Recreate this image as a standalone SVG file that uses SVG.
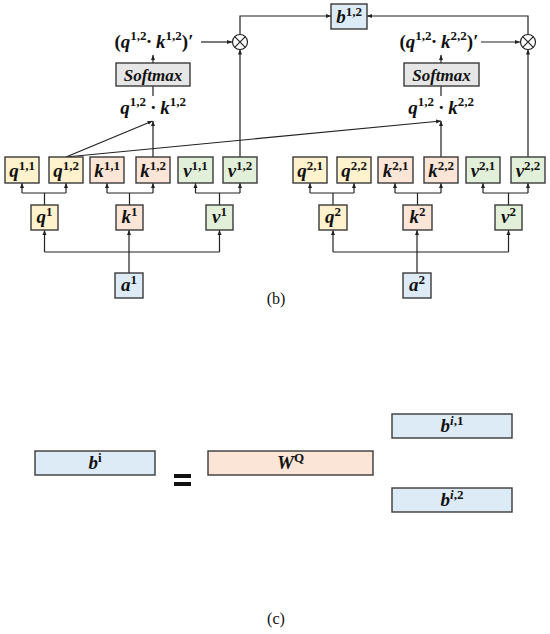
<svg xmlns="http://www.w3.org/2000/svg" width="550" height="634" viewBox="0 0 550 634">
<defs>
<marker id="ah" viewBox="0 0 10 10" refX="10" refY="5" markerWidth="5" markerHeight="5" orient="auto" markerUnits="userSpaceOnUse">
<path d="M0,1 L10,5 L0,9 Z" fill="#222"/>
</marker>
</defs>
<style>
.box{stroke:#3a3a3a;stroke-width:1.4}
.q{fill:#FFF2CC}.k{fill:#FBE5D6}.v{fill:#E2F0D9}.b{fill:#DDEBF7}.s{fill:#E6E6E6}
text{font-family:'Liberation Serif','Times New Roman','DejaVu Serif',serif}
.lb{font-weight:bold;font-style:italic;font-size:19px;fill:#111;text-anchor:middle}
.sp{font-style:normal;font-size:13px}
.f{font-weight:bold;font-style:italic;font-size:19px;fill:#111;text-anchor:middle}
.fs{font-style:normal;font-size:13px}
.sm{font-weight:bold;font-style:italic;font-size:17px;fill:#111;text-anchor:middle}
.cap{font-size:16px;fill:#111;text-anchor:middle}
.ln{fill:none;stroke:#222;stroke-width:1.2}
.ot{fill:none;stroke:#222;stroke-width:1.2}
</style>

<g id="connectors">
<path class="ln" d="M129,273 V252"/>
<path class="ln" d="M44.5,252 H219.5"/>
<path class="ln" d="M44.5,252 V230" marker-end="url(#ah)"/>
<path class="ln" d="M129,252 V230" marker-end="url(#ah)"/>
<path class="ln" d="M219.5,252 V230" marker-end="url(#ah)"/>
<path class="ln" d="M44.5,205 V193 M22,193 H66 M129.5,205 V193 M107,193 H153 M219.5,205 V193 M195.5,193 H240"/>
<path class="ln" d="M22,193 V183" marker-end="url(#ah)"/>
<path class="ln" d="M66,193 V183" marker-end="url(#ah)"/>
<path class="ln" d="M107,193 V183" marker-end="url(#ah)"/>
<path class="ln" d="M153,193 V183" marker-end="url(#ah)"/>
<path class="ln" d="M195.5,193 V183" marker-end="url(#ah)"/>
<path class="ln" d="M240,193 V183" marker-end="url(#ah)"/>
<path class="ln" d="M417,273 V252"/>
<path class="ln" d="M333,252 H508.5"/>
<path class="ln" d="M333,252 V230" marker-end="url(#ah)"/>
<path class="ln" d="M417,252 V230" marker-end="url(#ah)"/>
<path class="ln" d="M508.5,252 V230" marker-end="url(#ah)"/>
<path class="ln" d="M333,205 V193 M310,193 H354 M417.5,205 V193 M395,193 H441 M508.5,205 V193 M483,193 H528"/>
<path class="ln" d="M310,193 V183" marker-end="url(#ah)"/>
<path class="ln" d="M354,193 V183" marker-end="url(#ah)"/>
<path class="ln" d="M395,193 V183" marker-end="url(#ah)"/>
<path class="ln" d="M441,193 V183" marker-end="url(#ah)"/>
<path class="ln" d="M483,193 V183" marker-end="url(#ah)"/>
<path class="ln" d="M528,193 V183" marker-end="url(#ah)"/>
<path class="ln" d="M66,157 L152.5,121" marker-end="url(#ah)"/>
<path class="ln" d="M153,157 V121" marker-end="url(#ah)"/>
<path class="ln" d="M66,157 L441,121" marker-end="url(#ah)"/>
<path class="ln" d="M441,157 V121" marker-end="url(#ah)"/>
<path class="ln" d="M153,96 V86"/>
<path class="ln" d="M441,96 V86"/>
<path class="ln" d="M153,63 V55" marker-end="url(#ah)"/>
<path class="ln" d="M441,63 V55" marker-end="url(#ah)"/>
<path class="ln" d="M201,42 H232" marker-end="url(#ah)"/>
<path class="ln" d="M481,42 H520" marker-end="url(#ah)"/>
<path class="ln" d="M240,157 V49.5" marker-end="url(#ah)"/>
<path class="ln" d="M528,157 V49.5" marker-end="url(#ah)"/>
<path class="ln" d="M240,34.5 V16 H331" marker-end="url(#ah)"/>
<path class="ln" d="M528,34.5 V16 H367" marker-end="url(#ah)"/>
</g>

<g id="otimes1"><circle class="ot" cx="240" cy="42" r="7.5"/><path class="ot" d="M234.7,36.7 L245.3,47.3 M245.3,36.7 L234.7,47.3"/></g>
<g id="otimes2"><circle class="ot" cx="528" cy="42" r="7.5"/><path class="ot" d="M522.7,36.7 L533.3,47.3 M533.3,36.7 L522.7,47.3"/></g>

<g id="b12"><rect class="box b" x="331" y="4" width="36" height="25"/><text class="lb" x="349" y="23">b<tspan class="sp" dy="-7">1,2</tspan></text></g>

<g id="dot1"><text class="f" x="153" y="114">q<tspan class="fs" dy="-8">1,2</tspan><tspan dy="8"> · k</tspan><tspan class="fs" dy="-8">1,2</tspan></text></g>
<g id="dot2"><text class="f" x="441" y="114">q<tspan class="fs" dy="-8">1,2</tspan><tspan dy="8"> · k</tspan><tspan class="fs" dy="-8">2,2</tspan></text></g>
<g id="softmax1"><rect class="box s" x="116" y="63" width="74" height="23"/><text class="sm" x="153" y="80.5">Softmax</text></g>
<g id="softmax2"><rect class="box s" x="404" y="63" width="75" height="23"/><text class="sm" x="441.5" y="80.5">Softmax</text></g>
<g id="sm1"><text class="f" x="154" y="48"><tspan font-style="normal">(</tspan>q<tspan class="fs" dy="-8">1,2</tspan><tspan dy="8">· k</tspan><tspan class="fs" dy="-8">1,2</tspan><tspan dy="8" font-style="normal">)′</tspan></text></g>
<g id="sm2"><text class="f" x="439" y="48"><tspan font-style="normal">(</tspan>q<tspan class="fs" dy="-8">1,2</tspan><tspan dy="8">· k</tspan><tspan class="fs" dy="-8">2,2</tspan><tspan dy="8" font-style="normal">)′</tspan></text></g>

<g id="q11"><rect class="box q" x="5" y="157" width="34" height="26"/><text class="lb" x="22" y="177">q<tspan class="sp" dy="-7">1,1</tspan></text></g>
<g id="q12"><rect class="box q" x="49" y="157" width="34" height="26"/><text class="lb" x="66" y="177">q<tspan class="sp" dy="-7">1,2</tspan></text></g>
<g id="k11"><rect class="box k" x="90" y="157" width="34" height="26"/><text class="lb" x="107" y="177">k<tspan class="sp" dy="-7">1,1</tspan></text></g>
<g id="k12"><rect class="box k" x="136" y="157" width="34" height="26"/><text class="lb" x="153" y="177">k<tspan class="sp" dy="-7">1,2</tspan></text></g>
<g id="v11"><rect class="box v" x="178" y="157" width="35" height="26"/><text class="lb" x="195.5" y="177">v<tspan class="sp" dy="-7">1,1</tspan></text></g>
<g id="v12"><rect class="box v" x="223" y="157" width="34" height="26"/><text class="lb" x="240" y="177">v<tspan class="sp" dy="-7">1,2</tspan></text></g>
<g id="q21"><rect class="box q" x="293" y="157" width="34" height="26"/><text class="lb" x="310" y="177">q<tspan class="sp" dy="-7">2,1</tspan></text></g>
<g id="q22"><rect class="box q" x="337" y="157" width="34" height="26"/><text class="lb" x="354" y="177">q<tspan class="sp" dy="-7">2,2</tspan></text></g>
<g id="k21"><rect class="box k" x="378" y="157" width="35" height="26"/><text class="lb" x="395.5" y="177">k<tspan class="sp" dy="-7">2,1</tspan></text></g>
<g id="k22"><rect class="box k" x="424" y="157" width="34" height="26"/><text class="lb" x="441" y="177">k<tspan class="sp" dy="-7">2,2</tspan></text></g>
<g id="v21"><rect class="box v" x="466" y="157" width="34" height="26"/><text class="lb" x="483" y="177">v<tspan class="sp" dy="-7">2,1</tspan></text></g>
<g id="v22"><rect class="box v" x="511" y="157" width="34" height="26"/><text class="lb" x="528" y="177">v<tspan class="sp" dy="-7">2,2</tspan></text></g>

<g id="q1"><rect class="box q" x="31" y="205" width="27" height="25"/><text class="lb" x="44.5" y="223">q<tspan class="sp" dy="-7">1</tspan></text></g>
<g id="k1"><rect class="box k" x="116" y="205" width="27" height="25"/><text class="lb" x="129.5" y="223">k<tspan class="sp" dy="-7">1</tspan></text></g>
<g id="v1"><rect class="box v" x="206" y="205" width="27" height="25"/><text class="lb" x="219.5" y="223">v<tspan class="sp" dy="-7">1</tspan></text></g>
<g id="q2"><rect class="box q" x="319" y="205" width="28" height="25"/><text class="lb" x="333" y="223">q<tspan class="sp" dy="-7">2</tspan></text></g>
<g id="k2"><rect class="box k" x="403" y="205" width="29" height="25"/><text class="lb" x="417.5" y="223">k<tspan class="sp" dy="-7">2</tspan></text></g>
<g id="v2"><rect class="box v" x="495" y="205" width="27" height="25"/><text class="lb" x="508.5" y="223">v<tspan class="sp" dy="-7">2</tspan></text></g>

<g id="a1"><rect class="box b" x="115" y="273" width="28" height="25"/><text class="lb" x="129" y="291">a<tspan class="sp" dy="-7">1</tspan></text></g>
<g id="a2"><rect class="box b" x="403" y="273" width="28" height="25"/><text class="lb" x="417" y="291">a<tspan class="sp" dy="-7">2</tspan></text></g>

<text class="cap" x="276" y="304">(b)</text>

<g id="bi"><rect class="box b" x="35" y="451" width="120" height="24"/><text class="lb" x="95" y="469" font-size="16">b<tspan class="sp" dy="-7" font-style="italic" font-size="11">i</tspan></text></g>
<g id="eq"><rect x="174" y="474" width="17" height="4" fill="#111"/><rect x="174" y="482" width="17" height="4" fill="#111"/></g>
<g id="WQ"><rect class="box k" x="208" y="451" width="165" height="24"/><text class="lb" x="290.5" y="469" font-size="16">W<tspan class="sp" dy="-7" font-style="italic" font-size="11">Q</tspan></text></g>
<g id="bi1"><rect class="box b" x="392" y="414" width="120" height="24"/><text class="lb" x="452" y="432" font-size="16">b<tspan class="sp" dy="-7" font-size="11"><tspan font-style="italic">i</tspan>,1</tspan></text></g>
<g id="bi2"><rect class="box b" x="392" y="488" width="120" height="24"/><text class="lb" x="452" y="506" font-size="16">b<tspan class="sp" dy="-7" font-size="11"><tspan font-style="italic">i</tspan>,2</tspan></text></g>

<text class="cap" x="276" y="624">(c)</text>
</svg>
